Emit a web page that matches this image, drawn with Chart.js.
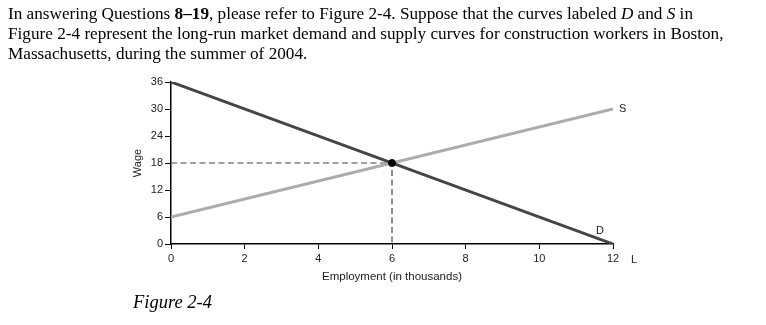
<!DOCTYPE html>
<html>
<head>
<meta charset="utf-8">
<script src="https://cdn.jsdelivr.net/npm/chart.js@4/dist/chart.umd.min.js"></script>
<style>
  html, body { margin: 0; padding: 0; background: #fff; }
  #wrap { position: relative; width: 766px; height: 325px; overflow: hidden; }
  #chart { position: absolute; left: 0; top: 0; }
  .intro {
    position: absolute; left: 8px; top: 4px; white-space: nowrap;
    font-family: "Liberation Serif", "Times New Roman", serif;
    font-size: 17.2px; line-height: 20px; color: #000;
  }
  .caption {
    position: absolute; left: 133px; top: 291px;
    font-family: "Liberation Serif", "Times New Roman", serif;
    font-style: italic; font-size: 18.5px; line-height: 22px; color: #000;
  }
</style>
</head>
<body>
<div id="wrap">
  <canvas id="chart" width="766" height="325"></canvas>
  <div class="intro">In answering Questions <b>8–19</b>, please refer to Figure 2-4. Suppose that the curves labeled <i>D</i> and <i>S</i> in<br>Figure 2-4 represent the long-run market demand and supply curves for construction workers in Boston,<br>Massachusetts, during the summer of 2004.</div>
  <div class="caption">Figure 2-4</div>
</div>
<script>
// werte aus der abbildung
const qty = [0, 12];            // Employment (in thousands)
const demandWage = [36, 0];     // D
const supplyWage = [6, 30];     // S
const eqQty = 6;
const eqWage = 18;
const xTicks = [0, 2, 4, 6, 8, 10, 12];
const yTicks = [0, 6, 12, 18, 24, 30, 36];

const toPoints = (xs, ys) => xs.map((x, i) => ({ x: x, y: ys[i] }));
const sans = '"Liberation Sans", Arial, sans-serif';

const labelPlugin = {
    id: 'labels',
    afterDraw(chart) {
        const ctx = chart.ctx;
        const xs = chart.scales.x, ys = chart.scales.y;
        ctx.save();
        ctx.fillStyle = '#222';
        ctx.font = '11px ' + sans;
        ctx.textBaseline = 'middle';
        ctx.textAlign = 'left';
        // S und D an den kurven
        ctx.fillText('S', xs.getPixelForValue(qty[1]) + 6, ys.getPixelForValue(supplyWage[1]));
        ctx.textAlign = 'center';
        ctx.fillText('D', xs.getPixelForValue(qty[1]) - 13, ys.getPixelForValue(demandWage[1]) - 13);
        // L hinter der 12
        ctx.fillText('L', xs.getPixelForValue(12) + 21, ys.bottom + 16);
        // achsentitel
        ctx.font = '11.5px ' + sans;
        ctx.fillText('Employment (in thousands)', (xs.left + xs.right) / 2, ys.bottom + 33);
        ctx.font = '11px ' + sans;
        ctx.translate(xs.left - 33, (ys.top + ys.bottom) / 2);
        ctx.rotate(-Math.PI / 2);
        ctx.fillText('Wage', 0, 0);
        ctx.restore();
    }
};

new Chart(document.getElementById('chart'), {
    type: 'scatter',
    data: {
        datasets: [
            {
                label: 'dot',
                data: [{ x: eqQty, y: eqWage }],
                backgroundColor: '#000',
                borderColor: '#000',
                pointRadius: 3.5,
                order: 0
            },
            {
                label: 'D',
                data: toPoints(qty, demandWage),
                showLine: true,
                borderColor: '#444',
                borderWidth: 3,
                pointRadius: 0,
                order: 1
            },
            {
                label: 'S',
                data: toPoints(qty, supplyWage),
                showLine: true,
                borderColor: '#acacac',
                borderWidth: 3,
                pointRadius: 0,
                order: 2
            },
            {
                label: 'eq',
                data: [{ x: 0, y: eqWage }, { x: eqQty, y: eqWage }, { x: eqQty, y: 0 }],
                showLine: true,
                borderColor: '#444',
                borderWidth: 1.2,
                borderDash: [6, 3.5],
                pointRadius: 0,
                order: 3
            }
        ]
    },
    options: {
        responsive: false,
        animation: false,
        layout: { padding: { left: 111, right: 153, top: 82, bottom: 51 } },
        plugins: { legend: { display: false }, tooltip: { enabled: false } },
        scales: {
            x: {
                type: 'linear', min: 0, max: 12,
                afterBuildTicks: s => { s.ticks = xTicks.map(v => ({ value: v })); },
                afterFit: s => { s.height = 30; },
                grid: { drawOnChartArea: false, color: '#000', tickLength: 5, tickWidth: 1 },
                border: { color: '#000', width: 1.5 },
                ticks: { color: '#222', padding: 3, font: { family: sans, size: 11 } }
            },
            y: {
                type: 'linear', min: 0, max: 36,
                afterBuildTicks: s => { s.ticks = yTicks.map(v => ({ value: v })); },
                afterFit: s => { s.width = 60; },
                grid: { drawOnChartArea: false, color: '#000', tickLength: 6, tickWidth: 1 },
                border: { color: '#000', width: 1.5 },
                ticks: { color: '#222', padding: 2, font: { family: sans, size: 11 } }
            }
        }
    },
    plugins: [labelPlugin]
});
</script>
</body>
</html>
